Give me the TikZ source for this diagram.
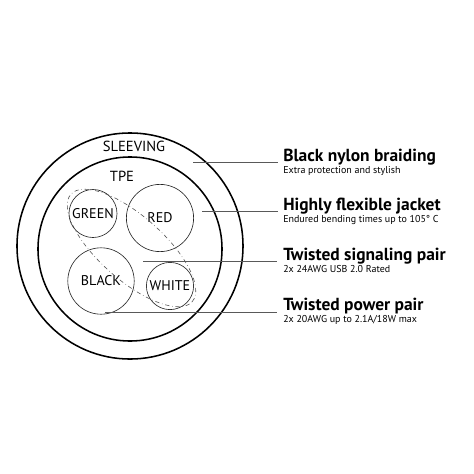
\documentclass[tikz,border=0pt]{standalone}
\usepackage{fontspec}
\setmainfont{PT Sans}
\usetikzlibrary{shapes.geometric}
\begin{document}
\begin{tikzpicture}[
        x=0.025cm, y=-0.025cm,
        ring/.style={circle, draw=black, line width=1.1pt, inner sep=0pt},
        wire/.style={circle, draw=black!85, line width=0.45pt, inner sep=0pt, font=\fontsize{10}{12}\selectfont},
        pairline/.style={ellipse, draw=black!70, dash dot, line width=0.4pt, inner sep=0pt, rotate=-41.5},
        leader/.style={draw=black!65, line width=0.6pt},
        title/.style={font=\fontsize{10.4}{12}\selectfont, inner sep=0pt},
        heading/.style={anchor=west, inner sep=0pt, font=\fontsize{12.4}{14}\selectfont\bfseries},
        subtext/.style={anchor=west, inner sep=0pt, font=\fontsize{7.1}{8}\selectfont}
      ]
        \useasboundingbox (0,0) rectangle (474,474);
        \node[ring, minimum size=5.65cm] (outer) at (130,246) {};
        \node[ring, minimum size=4.6cm] (inner) at (130,249) {};
        \node[title] (sleeving) at (134,146) {SLEEVING};
        \node[title] (tpe) at (122,176) {TPE};
        \node[wire, minimum size=1.2cm] (green) at (93,213.5) {GREEN};
        \node[wire, minimum size=1.68cm] (red) at (160,218) {RED};
        \node[wire, minimum size=1.66cm] (black) at (101,281) {BLACK};
        \node[wire, minimum size=1.18cm] (white) at (170,286) {WHITE};
        \node[pairline, minimum width=4.05cm, minimum height=1.6cm] (pair) at (131.5,248) {};
        % callouts
        \node[heading] (braid) at (283,157) {Black nylon braiding};
        \node[subtext] (braidsub) at (283,170.5) {Extra protection and stylish};
        \node[heading] (jacket) at (283,206.5) {Highly flexible jacket};
        \node[subtext] (jacketsub) at (283,220) {Endured bending times up to 105° C};
        \node[heading] (signal) at (283,256) {Twisted signaling pair};
        \node[subtext] (signalsub) at (283,269) {2x 24AWG USB 2.0 Rated};
        \node[heading] (power) at (283,306) {Twisted power pair};
        \node[subtext] (powersub) at (283,320) {2x 20AWG up to 2.1A/18W max};
        % leaders
        \coordinate (a1) at (193,162);
        \coordinate (b1) at (278,162);
        \coordinate (a2) at (202,211);
        \coordinate (b2) at (278,211);
        \coordinate (a3) at (143,261);
        \coordinate (b3) at (277,261);
        \coordinate (a4) at (105,312);
        \coordinate (b4) at (277,312);
        \draw[leader] (a1) -- (b1);
        \draw[leader] (a2) -- (b2);
        \draw[leader] (a3) -- (b3);
        \draw[leader] (a4) -- (b4);
      \end{tikzpicture}
\end{document}
